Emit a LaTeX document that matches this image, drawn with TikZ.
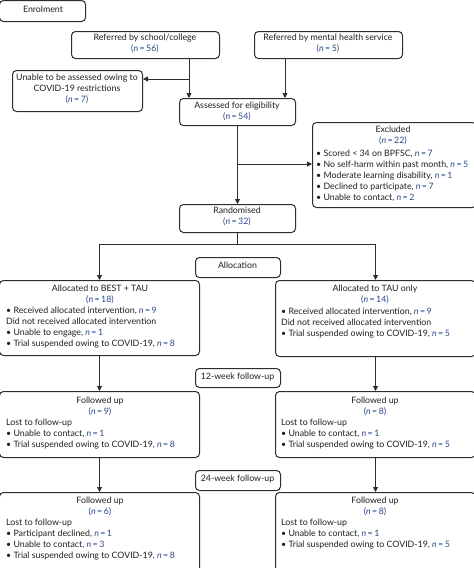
\documentclass[tikz,border=0pt]{standalone}
\usepackage{fontspec}
\setmainfont{Lato}
\usetikzlibrary{arrows.meta}
\definecolor{nblue}{RGB}{40,72,138}
\definecolor{edge}{RGB}{45,45,45}
\newcommand{\nv}[1]{{\color{nblue}\textit{n}\,=\,#1}}
\newcommand{\pn}[1]{{\color{nblue}(\textit{n}\,=\,#1)}}
\newcommand{\bu}{\textbullet\ }
\tikzset{
  box/.style={draw=edge, line width=1pt, rounded corners=4pt, inner sep=0pt, anchor=north west},
  txt/.style={inner sep=0pt, font=\fontsize{8.8}{11.2}\selectfont, text=black!88},
  ctr/.style={txt, align=center, anchor=north},
  lft/.style={txt, align=left, anchor=north west},
  arr/.style={draw=edge, line width=1pt, -{Triangle[length=5pt,width=5pt]}},
  ln/.style={draw=edge, line width=1pt}
}
\begin{document}
\begin{tikzpicture}[x=1pt,y=-1pt]
\useasboundingbox (0,0) rectangle (474,568);
% boxes
\node[box, minimum width=86pt, minimum height=21pt] (enrol) at (-1,0) {};
\node[ctr] (tenrol) at (43,5.5) {Enrolment};
\node[box, minimum width=148pt, minimum height=27pt] (school) at (71,31) {};
\node[ctr] (tschool) at (145,33.5) {Referred by school/college\\\pn{56}};
\node[box, minimum width=148pt, minimum height=27pt] (mh) at (254,31) {};
\node[ctr] (tmh) at (328,33.5) {Referred by mental health service\\\pn{5}};
\node[box, minimum width=130pt, minimum height=41pt] (unable) at (12,70) {};
\node[ctr] (tunable) at (77,73.5) {Unable to be assessed owing to\\COVID-19 restrictions\\\pn{7}};
\node[box, minimum width=116pt, minimum height=27pt] (assess) at (179,98) {};
\node[ctr] (tassess) at (237,101.5) {Assessed for eligibility\\\pn{54}};
\node[box, minimum width=164pt, minimum height=85pt] (excl) at (312,122) {};
\node[ctr] (texcl) at (393,125.5) {Excluded\\\pn{22}};
\node[lft] (lexcl) at (316,149.5) {\bu Scored < 34 on BPFSC, \nv{7}\\\bu No self-harm within past month, \nv{5}\\\bu Moderate learning disability, \nv{1}\\\bu Declined to participate, \nv{7}\\\bu Unable to contact, \nv{2}};
\node[box, minimum width=116pt, minimum height=28pt] (rand) at (179,204) {};
\node[ctr] (trand) at (237,206.5) {Randomised\\\pn{32}};
\node[box, minimum width=85pt, minimum height=20pt] (alloc) at (195,257) {};
\node[ctr] (talloc) at (237.5,261.5) {Allocation};
\node[box, minimum width=200pt, minimum height=75pt] (alL) at (-1,280) {};
\node[ctr] (talL) at (100,284.5) {Allocated to BEST + TAU\\\pn{18}};
\node[lft] (lalL) at (6,306.5) {\bu Received allocated intervention, \nv{9}\\Did not received allocated intervention\\\bu Unable to engage, \nv{1}\\\bu Trial suspended owing to COVID-19, \nv{8}};
\node[box, minimum width=200pt, minimum height=76pt] (alR) at (275,280) {};
\node[ctr] (talR) at (375,284.5) {Allocated to TAU only\\\pn{14}};
\node[lft] (lalR) at (281,307.5) {\bu Received allocated intervention, \nv{9}\\Did not received allocated intervention\\\bu Trial suspended owing to COVID-19, \nv{5}};
\node[box, minimum width=85pt, minimum height=19pt] (fu12) at (195,368) {};
\node[ctr] (tfu12) at (237.5,372.5) {12-week follow-up};
\node[box, minimum width=200pt, minimum height=66pt] (f12L) at (-1,391) {};
\node[ctr] (tf12L) at (100,396.5) {Followed up\\\pn{9}};
\node[lft] (lf12L) at (6,418.5) {Lost to follow-up\\\bu Unable to contact, \nv{1}\\\bu Trial suspended owing to COVID-19, \nv{8}};
\node[box, minimum width=200pt, minimum height=66pt] (f12R) at (275,391) {};
\node[ctr] (tf12R) at (375,396.5) {Followed up\\\pn{8}};
\node[lft] (lf12R) at (281,418.5) {Lost to follow-up\\\bu Unable to contact, \nv{1}\\\bu Trial suspended owing to COVID-19, \nv{5}};
\node[box, minimum width=85pt, minimum height=20pt] (fu24) at (195,470) {};
\node[ctr] (tfu24) at (237.5,474.5) {24-week follow-up};
\node[box, minimum width=200pt, minimum height=80pt] (f24L) at (-1,492) {};
\node[ctr] (tf24L) at (100,496.5) {Followed up\\\pn{6}};
\node[lft] (lf24L) at (6,518.5) {Lost to follow-up\\\bu Participant declined, \nv{1}\\\bu Unable to contact, \nv{3}\\\bu Trial suspended owing to COVID-19, \nv{8}};
\node[box, minimum width=200pt, minimum height=80pt] (f24R) at (275,492) {};
\node[ctr] (tf24R) at (375,496.5) {Followed up\\\pn{8}};
\node[lft] (lf24R) at (281,518.5) {Lost to follow-up\\\bu Unable to contact, \nv{1}\\\bu Trial suspended owing to COVID-19, \nv{5}};
% guide coordinates
\coordinate (xa) at (189,0);
\coordinate (xb) at (285,0);
\coordinate (yb1) at (0,79);
\coordinate (yb2) at (0,164);
\coordinate (ysp) at (0,244);
% connectors
\draw[arr] (school.south -| xa) -- (assess.north -| xa);
\draw[arr] (xa |- yb1) -- (unable.east |- yb1);
\draw[arr] (mh.south -| xb) -- (assess.north -| xb);
\draw[arr] (assess.south) -- (rand.north);
\draw[arr] (assess.south |- yb2) -- (excl.west |- yb2);
\draw[ln] (rand.south) -- (rand.south |- ysp);
\draw[arr] (rand.south |- ysp) -| (alL.north);
\draw[arr] (rand.south |- ysp) -| (alR.north);
\draw[arr] (alL.south) -- (f12L.north);
\draw[arr] (alR.south) -- (f12R.north);
\draw[arr] (f12L.south) -- (f24L.north);
\draw[arr] (f12R.south) -- (f24R.north);
\end{tikzpicture}
\end{document}
